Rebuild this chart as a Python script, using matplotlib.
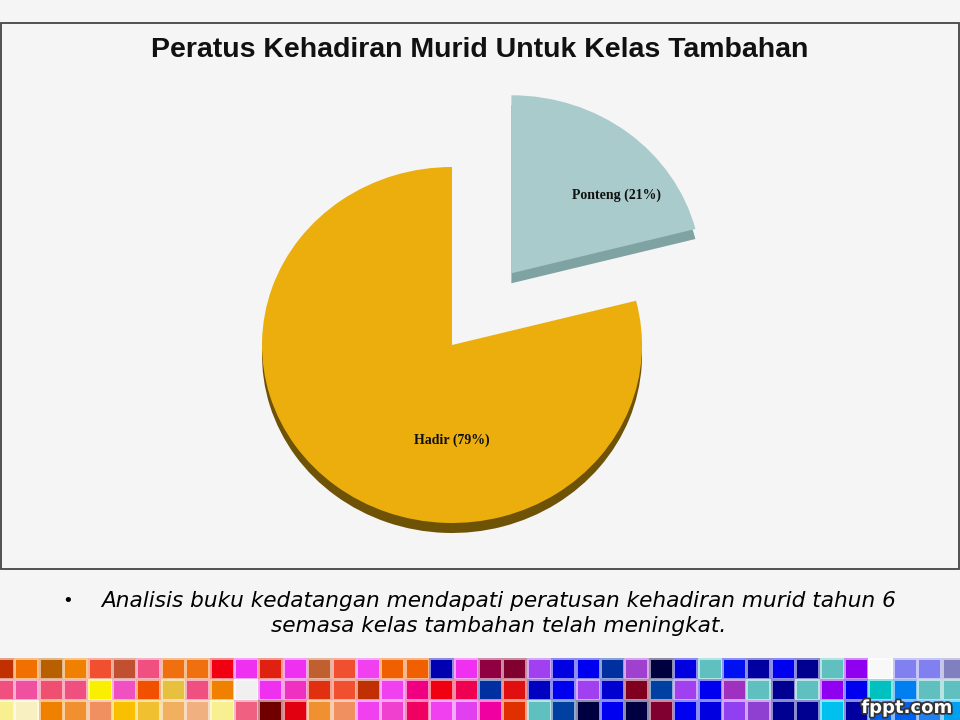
import matplotlib.pyplot as plt
import matplotlib.patheffects as pe
from matplotlib.patches import Rectangle
from matplotlib.colors import to_rgb

# data
labels = ['Ponteng', 'Hadir']
values = [21, 79]
face_colors = ['#a9cbcb', '#ebae0d']
side_colors = ['#7fa2a2', '#6e5206']
explode = [0.51, 0]

title = 'Peratus Kehadiran Murid Untuk Kelas Tambahan'
bullet_lines = ['Analisis buku kedatangan mendapati peratusan kehadiran murid tahun 6',
                'semasa kelas tambahan telah meningkat.']

# decoration mosaic at the bottom of the slide
row1 = ['#c03000', '#f07000', '#b86000', '#f08000', '#f05030', '#c05030', '#f05080', '#f07010',
        '#f07010', '#f00010', '#f030f0', '#e02010', '#f030f0', '#c06030', '#f05030', '#f040f0',
        '#f06000', '#f06000', '#0000b0', '#f030f0',
        '#900040', '#800030', '#a040f0', '#0000e0', '#0000f0', '#0030a0', '#a040d0', '#000040',
        '#0000e0', '#60c0c0', '#0010f0', '#0000a0', '#0000f0', '#000090', '#60c0c0', '#9000f0',
        '#f8f8f8', '#8080f0', '#8080f0', '#8080c0']
row2 = ['#f05080', '#f050a0', '#f05070', '#f05080', '#f8f000', '#f050c0', '#f05000', '#e8c040',
        '#f05080', '#f08000', '#f0f0f0', '#f030f0', '#f030c0', '#e03010', '#f05030', '#c03000',
        '#f040f0', '#f00080', '#f00010', '#f00050',
        '#0030a0', '#e01010', '#0000c0', '#0000f0', '#a040f0', '#0000d0', '#800020', '#0040a0',
        '#a040f0', '#0000f0', '#a030c0', '#60c0c0', '#000090', '#60c0c0', '#9000f0', '#0000f0',
        '#00c0c0', '#0080f0', '#60c0c0', '#60c0c0']
row3 = ['#f8f090', '#f8f0c0', '#f08000', '#f09030', '#f09060', '#f8c000', '#f0c030', '#f0b060',
        '#f0b080', '#f8f090', '#f06080', '#700000', '#e00010', '#f09030', '#f09060', '#f040f0',
        '#f040d0', '#f00060', '#f040f0', '#e040f0',
        '#f000a0', '#e03000', '#60c0c0', '#0040a0', '#000040', '#0000f0', '#000040', '#800030',
        '#0000f0', '#0000e0', '#9040f0', '#9040d0', '#000090', '#000090', '#00c0f0', '#0000a0',
        '#0060f0', '#0060f0', '#2080f0', '#00a0f0']
mosaic_rows = [row1, row2, row3]

bg = '#f5f5f5'
fig = plt.figure(figsize=(9.6, 7.2), dpi=100)
fig.patch.set_facecolor(bg)

# slide layer in pixel coordinates
base = fig.add_axes([0, 0, 1, 1])
base.set_xlim(0, 960)
base.set_ylim(720, 0)
base.axis('off')

base.add_patch(Rectangle((1, 23), 958, 546, fill=False, edgecolor='#444444', linewidth=1.3))
base.text(480, 50, title, ha='center', va='center', fontsize=20.5, fontweight='bold',
          family='Liberation Sans', color='#111111')

base.text(68, 601, '\u2022', ha='center', va='center', fontsize=13, color='black')
for i, line in enumerate(bullet_lines):
    base.text(499, 601 + 25 * i, line, ha='center', va='center', fontsize=15.6,
              family='DejaVu Sans', style='italic', color='black')

pitch = 24.4
for r, row in enumerate(mosaic_rows):
    y = 660 + 21 * r
    for c, col in enumerate(row):
        x = -8 + pitch * c
        rgb = to_rgb(col)
        glow = tuple(0.45 * v + 0.55 for v in rgb)
        base.add_patch(Rectangle((x - 2, y - 2), pitch, 22, facecolor=glow, edgecolor='none'))
for r, row in enumerate(mosaic_rows):
    y = 660 + 21 * r
    for c, col in enumerate(row):
        x = -8 + pitch * c
        base.add_patch(Rectangle((x, y), 21, 18, facecolor=col, edgecolor='none'))

base.text(952, 708, 'fppt.com', ha='right', va='center', fontsize=13, fontweight='bold',
          color='white', path_effects=[pe.withStroke(linewidth=2.5, foreground='#333333')])

# pie layer (slightly flattened to mimic the tilted 3D pie)
cx, cy, rx, ry = 452, 345, 190, 178
lim = 1.3
ax = fig.add_axes([(cx - lim * rx) / 960, (720 - cy - lim * ry) / 720,
                   2 * lim * rx / 960, 2 * lim * ry / 720])
ax.patch.set_alpha(0)
shift = 10 / ry
ax.pie(values, colors=side_colors, explode=explode, startangle=90, counterclock=False,
       center=(0, -shift), wedgeprops=dict(linewidth=0))
ax.pie(values, colors=face_colors, explode=explode, startangle=90, counterclock=False,
       wedgeprops=dict(linewidth=0))
ax.set_xlim(-lim, lim)
ax.set_ylim(-lim, lim)
ax.set_aspect('auto')
ax.axis('off')

label_pos = [(617, 195), (452, 440)]
for lab, val, (px, py) in zip(labels, values, label_pos):
    ax.text(px, py, f'{lab} ({val}%)', ha='center', va='center', fontsize=10,
            fontweight='bold', family='Liberation Serif', color='#111111',
            transform=base.transData, zorder=5)

fig.savefig('out.png', dpi=100, facecolor=bg)
